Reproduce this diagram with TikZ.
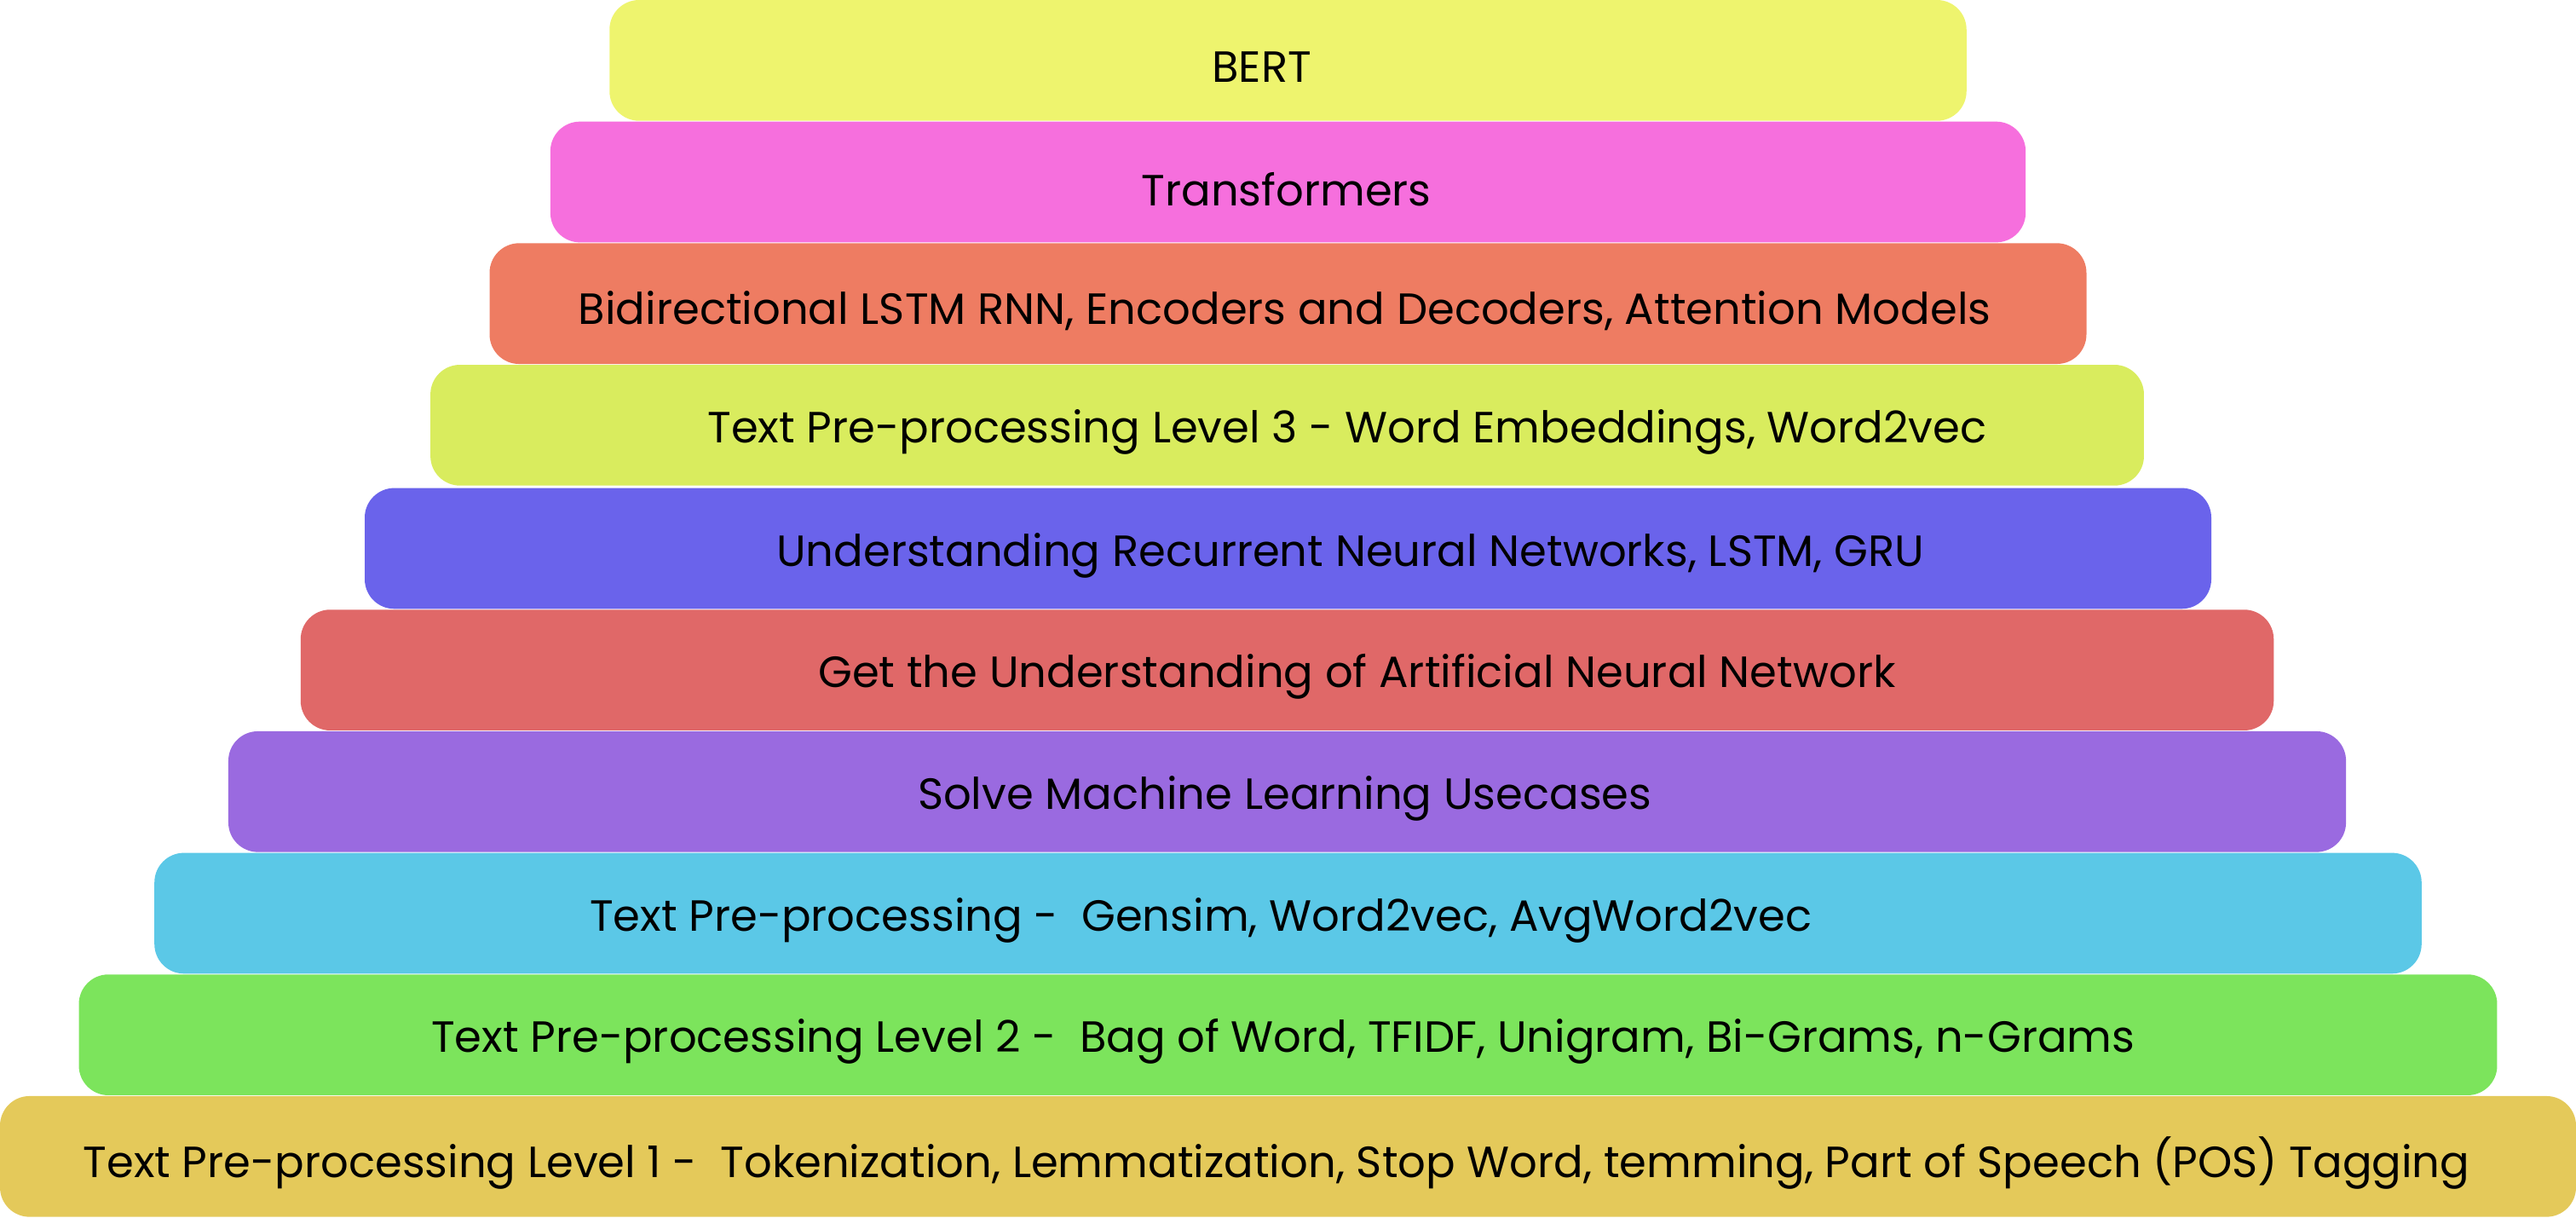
\documentclass[tikz,border=0pt]{standalone}
\usepackage{fontspec}
\setmainfont{Poppins}
\definecolor{c1}{HTML}{EEF46E}
\definecolor{c2}{HTML}{F66FDD}
\definecolor{c3}{HTML}{EE7C62}
\definecolor{c4}{HTML}{D9EC5E}
\definecolor{c5}{HTML}{6A63EB}
\definecolor{c6}{HTML}{E06868}
\definecolor{c7}{HTML}{9A6AE0}
\definecolor{c8}{HTML}{5BC8E7}
\definecolor{c9}{HTML}{7CE45C}
\definecolor{c10}{HTML}{E4C95A}
\tikzset{bar/.style={rounded corners=0.9cm},lab/.style={font=\fontsize{37.8}{44}\selectfont,text=black}}
\begin{document}
\begin{tikzpicture}[x=0.05cm,y=-0.05cm]
\useasboundingbox (0,0) rectangle (1568,741);
\foreach \a/\b/\t/\c/\tx/\txt [count=\i] in {
371/1197/0/c1/768/BERT,
335/1233/74/c2/783/Transformers,
298/1270/148/c3/782/{Bidirectional LSTM RNN, Encoders and Decoders, Attention Models},
262/1305/222/c4/820/{Text Pre-processing Level 3 - Word Embeddings, Word2vec},
222/1346/297/c5/822/{Understanding Recurrent Neural Networks, LSTM, GRU},
183/1384/371/c6/826/{Get the Understanding of Artificial Neural Network},
139/1428/445/c7/782/{Solve Machine Learning Usecases},
94/1474/519/c8/731/{Text Pre-processing -\ \ Gensim, Word2vec, AvgWord2vec},
48/1520/593/c9/781/{Text Pre-processing Level 2 -\ \ Bag of Word, TFIDF, Unigram, Bi-Grams, n-Grams},
0/1568/667/c10/777/{Text Pre-processing Level 1 -\ \ Tokenization, Lemmatization, Stop Word, temming, Part of Speech (POS) Tagging}}
{
  \fill[bar,\c] (\a,\t) rectangle (\b,\t+73.5) ;
  \node[lab] (n\i) at (\tx,\t+41) {\txt};
}
\end{tikzpicture}
\end{document}
